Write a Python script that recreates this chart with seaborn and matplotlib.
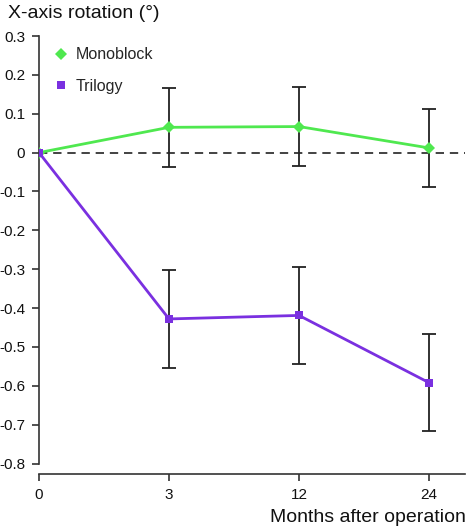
import matplotlib
matplotlib.use("Agg")
import matplotlib.pyplot as plt
import seaborn as sns
import pandas as pd
import numpy as np
from matplotlib.lines import Line2D

months = ["0", "3", "12", "24"]
monoblock_mean = [0.0, 0.065, 0.067, 0.012]
monoblock_err = [0.0, 0.101, 0.102, 0.101]
trilogy_mean = [0.0, -0.428, -0.419, -0.592]
trilogy_err = [0.0, 0.126, 0.125, 0.125]
y_ticks = [0.3, 0.2, 0.1, 0.0, -0.1, -0.2, -0.3, -0.4, -0.5, -0.6, -0.7, -0.8]

green = "#4fe84f"
purple = "#7a30e0"

sns.set_theme(style="ticks")
plt.rcParams["font.family"] = ["Liberation Sans", "DejaVu Sans"]

pos = list(range(len(months)))
df = pd.DataFrame({
    "pos": pos * 2,
    "value": monoblock_mean + trilogy_mean,
    "err": monoblock_err + trilogy_err,
    "group": ["Monoblock"] * 4 + ["Trilogy"] * 4,
})

fig = plt.figure(figsize=(4.67, 5.27), dpi=100)
ax = fig.add_axes([39 / 467, 1 - 474 / 527, 426 / 467, (474 - 36) / 527])

ax.axhline(0, color="#222222", lw=1.2, ls=(0, (5, 3.5)), zorder=1)

for grp in ["Monoblock", "Trilogy"]:
    sub = df[(df["group"] == grp) & (df["err"] > 0)]
    ax.errorbar(sub["pos"], sub["value"], yerr=sub["err"], fmt="none",
                ecolor="#222222", elinewidth=1.3, capsize=5, capthick=1.3, zorder=2)

sns.lineplot(data=df, x="pos", y="value", hue="group", style="group",
             palette={"Monoblock": green, "Trilogy": purple},
             markers={"Monoblock": "D", "Trilogy": "s"}, dashes=False,
             markersize=6, markeredgewidth=0, linewidth=2.0, ax=ax,
             legend=False, zorder=3)

ax.set_xlim(0, 3.277)
ax.set_ylim(-0.827, 0.3)
ax.set_xticks(pos)
ax.set_xticklabels(months, fontsize=11)
ax.set_yticks(y_ticks)
ax.set_yticklabels(["0" if v == 0 else f"{v:.1f}" for v in y_ticks], fontsize=11)
ax.set_xlabel("")
ax.set_ylabel("")

for s in ["top", "right"]:
    ax.spines[s].set_visible(False)
ax.spines["left"].set_bounds(-0.8, 0.3)
for s in ["left", "bottom"]:
    ax.spines[s].set_color("#333333")
    ax.spines[s].set_linewidth(1.2)
ax.tick_params(axis="both", length=5, width=1.2, color="#333333", labelcolor="#111111", pad=5)

handles = [
    Line2D([], [], color=green, marker="D", ls="none", markersize=6, markeredgewidth=0),
    Line2D([], [], color=purple, marker="s", ls="none", markersize=6, markeredgewidth=0),
]
ax.legend(handles, ["Monoblock", "Trilogy"], loc="upper left", bbox_to_anchor=(0.0, 1.007),
          frameon=False, fontsize=11.5, handlelength=1.0, handletextpad=0.4, labelspacing=1.05)

fig.text(8 / 467, 1 - 13 / 527, "X-axis rotation (°)", fontsize=14, ha="left", va="center", color="#111111")
fig.text(466 / 467, 1 - 517 / 527, "Months after operation", fontsize=14, ha="right", va="center", color="#111111")

fig.savefig("out.png", dpi=100)
